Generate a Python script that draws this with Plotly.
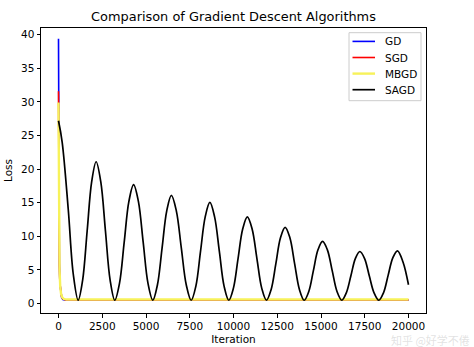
import plotly.graph_objects as go

# ---- data ----
gd_iter = [0, 15, 30, 50, 80, 120, 180, 250, 400, 20000]
gd_loss = [39.4, 22, 12, 6, 3, 1.6, 0.9, 0.6, 0.5, 0.5]

sgd_iter = [0, 15, 30, 50, 80, 120, 180, 250, 400, 20000]
sgd_loss = [31.6, 18, 10, 5.5, 3, 1.7, 1.0, 0.7, 0.55, 0.55]

mbgd_iter = [0, 15, 30, 60, 100, 150, 220, 300, 450, 20000]
mbgd_loss = [29.9, 17, 10, 5, 2.5, 1.4, 0.9, 0.7, 0.6, 0.6]

sagd_iter = [0, 211, 562, 843, 1124,
             1380, 1637, 1894, 2150, 2417, 2683, 2950, 3217,
             3485, 3753, 4022, 4290, 4565, 4840, 5114, 5389,
             5654, 5920, 6185, 6450, 6733, 7017, 7300, 7583,
             7850, 8117, 8383, 8650, 8920, 9190, 9461, 9731,
             9996, 10260, 10525, 10790, 11064, 11338, 11612, 11886,
             12152, 12418, 12684, 12950, 13222, 13495, 13767, 14040,
             14302, 14565, 14827, 15090, 15365, 15640, 15914, 16189,
             16447, 16705, 16962, 17220, 17491, 17762, 18032, 18303,
             18570, 18836, 19103, 19370, 19685, 20000]
sagd_loss = [27.2, 24.0, 13.85, 4.4, 0.5,
             3.5, 10.8, 18.1, 21.1, 18.1, 10.8, 3.5, 0.5,
             3.0, 9.1, 15.2, 17.7, 15.2, 9.1, 3.0, 0.5,
             2.8, 8.3, 13.8, 16.1, 13.8, 8.3, 2.8, 0.5,
             2.6, 7.8, 12.9, 15.05, 12.9, 7.8, 2.6, 0.5,
             2.3, 6.7, 11.1, 12.9, 11.1, 6.7, 2.3, 0.5,
             2.1, 5.9, 9.8, 11.35, 9.8, 5.9, 2.1, 0.5,
             1.8, 4.9, 8.0, 9.25, 8.0, 4.9, 1.8, 0.5,
             1.6, 4.1, 6.7, 7.75, 6.7, 4.1, 1.6, 0.5,
             1.6, 4.2, 6.8, 7.85, 6.2, 2.8]

x_ticks = [0, 2500, 5000, 7500, 10000, 12500, 15000, 17500, 20000]
x_tick_labels = [str(v) for v in x_ticks]
y_ticks = [0, 5, 10, 15, 20, 25, 30, 35, 40]

series_names = ["GD", "SGD", "MBGD", "SAGD"]
series_colors = ["#0000ff", "#ff0000", "#f7f25a", "#000000"]
series_widths = [1.6, 1.6, 2.4, 1.7]

FONT = "DejaVu Sans"
W, H = 474, 347
L, R, T, B = 41, 426, 28.3, 313.3   # plot area in pixels


def px_x(p):
    return (p - L) / (R - L)


def px_y(p):
    return (B - p) / (B - T)


fig = go.Figure()
fig.add_trace(go.Scatter(x=gd_iter, y=gd_loss, mode="lines", name=series_names[0],
                         line=dict(color=series_colors[0], width=series_widths[0])))
fig.add_trace(go.Scatter(x=sgd_iter, y=sgd_loss, mode="lines", name=series_names[1],
                         line=dict(color=series_colors[1], width=series_widths[1])))
fig.add_trace(go.Scatter(x=mbgd_iter, y=mbgd_loss, mode="lines", name=series_names[2],
                         line=dict(color=series_colors[2], width=series_widths[2])))
fig.add_trace(go.Scatter(x=sagd_iter, y=sagd_loss, mode="lines", name=series_names[3],
                         line=dict(color=series_colors[3], width=series_widths[3],
                                   shape="spline", smoothing=1.0)))

axis_common = dict(showgrid=False, zeroline=False, showline=True, linecolor="#000000",
                   linewidth=1, mirror=True, ticks="outside", ticklen=3.5,
                   tickcolor="#000000", tickwidth=1, automargin=False,
                   tickfont=dict(family=FONT, size=10.5, color="#000000"))

fig.update_layout(
    width=W, height=H,
    margin=dict(l=L, r=W - R, t=T, b=H - B),
    paper_bgcolor="white", plot_bgcolor="white",
    showlegend=False,
    title=dict(text="Comparison of Gradient Descent Algorithms",
               font=dict(family=FONT, size=12.9, color="#000000"),
               x=(L + R) / 2 / W, xanchor="center", y=1 - 16 / H, yanchor="middle"),
    xaxis=dict(range=[-1000, 21000], tickvals=x_ticks, ticktext=x_tick_labels,
               title=dict(text="Iteration", font=dict(family=FONT, size=10.5, color="#000000"),
                          standoff=4),
               **axis_common),
    yaxis=dict(range=[-1.4, 41.0], tickvals=y_ticks,
               title=dict(text="Loss", font=dict(family=FONT, size=10.5, color="#000000"),
                          standoff=6),
               **axis_common),
)

# legend box drawn like matplotlib's (compact spacing)
fig.add_shape(type="rect", xref="paper", yref="paper",
              x0=px_x(349), x1=px_x(421), y0=px_y(101), y1=px_y(33),
              line=dict(color="#cccccc", width=1), fillcolor="rgba(255,255,255,0.8)")
row_y = [41.7, 57.8, 73.9, 90.0]
for name, col, wd, ry in zip(series_names, series_colors, series_widths, row_y):
    fig.add_shape(type="line", xref="paper", yref="paper",
                  x0=px_x(352.5), x1=px_x(375), y0=px_y(ry), y1=px_y(ry),
                  line=dict(color=col, width=wd))
    fig.add_annotation(text=name, xref="paper", yref="paper", x=px_x(382.5), y=px_y(ry),
                       xanchor="left", yanchor="middle", showarrow=False,
                       font=dict(family=FONT, size=10.5, color="#000000"))

fig.add_annotation(text="知乎 @好学不倦", xref="paper", yref="paper",
                   x=px_x(472), y=px_y(340), xanchor="right", yanchor="middle", showarrow=False,
                   font=dict(family="Noto Sans CJK SC", size=11, color="rgba(170,170,170,0.35)"))

fig.write_html("out.html")
